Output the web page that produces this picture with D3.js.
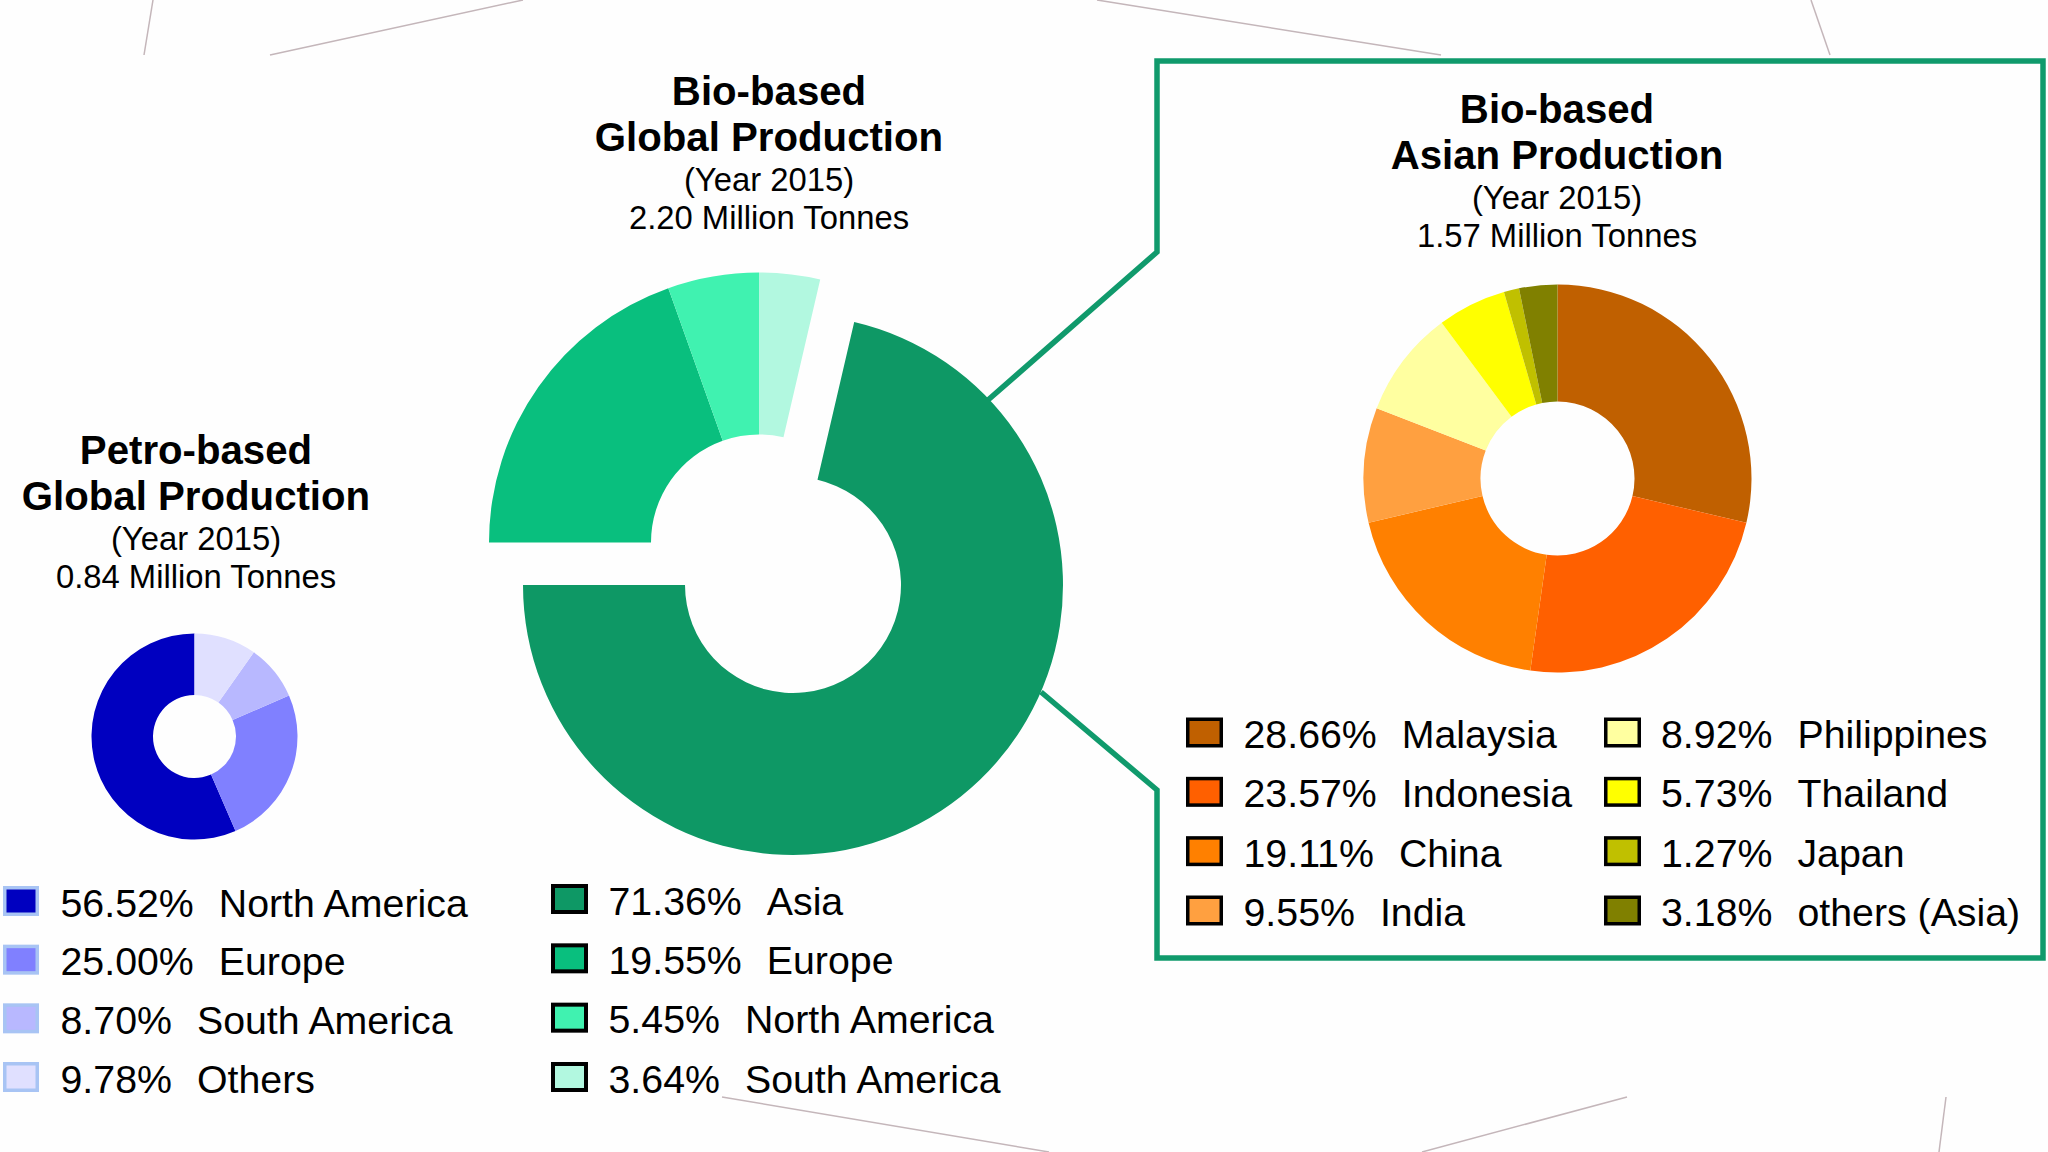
<!DOCTYPE html>
<html>
<head>
<meta charset="utf-8">
<script src="https://cdn.jsdelivr.net/npm/d3@7"></script>
<style>
  html, body { margin: 0; padding: 0; background: #fefefe; }
  svg { display: block; }
  text { font-family: "Liberation Sans", Arial, sans-serif; fill: #000; }
</style>
</head>
<body>
<div id="chart-area"></div>
<script>
// values
var petroRegions = ["North America", "Europe", "South America", "Others"];
var petroShares = [56.52, 25.00, 8.70, 9.78];
var petroColors = ["#0000c0", "#8080ff", "#b8b8ff", "#e0e0ff"];

var bioRegions = ["Asia", "Europe", "North America", "South America"];
var bioShares = [71.36, 19.55, 5.45, 3.64];
var bioColors = ["#0e9865", "#09bf7e", "#40f2b0", "#b2f8e0"];

var asiaCountries = ["Malaysia", "Indonesia", "China", "India", "Philippines", "Thailand", "Japan", "others (Asia)"];
var asiaShares = [28.66, 23.57, 19.11, 9.55, 8.92, 5.73, 1.27, 3.18];
var asiaColors = ["#c06000", "#ff6000", "#ff8000", "#ffa040", "#ffffa0", "#ffff00", "#c0c000", "#808000"];

var svg = d3.select("#chart-area").append("svg")
	.attr("width", 2048)
	.attr("height", 1152);

svg.append("rect")
	.attr("width", 2048)
	.attr("height", 1152)
	.attr("fill", "#fefefe");

// thin lines left over from the slide background
var backgroundLines = [
	[153, 0, 144, 55], [523, 0, 270, 55], [1097, 0, 1441, 55], [1811, 0, 1830, 55],
	[722, 1097, 1049, 1152], [1627, 1097, 1422, 1152], [1946, 1097, 1939, 1152]
];
svg.selectAll("line.bg").data(backgroundLines).enter()
	.append("line")
	.attr("class", "bg")
	.attr("x1", (d) => d[0])
	.attr("y1", (d) => d[1])
	.attr("x2", (d) => d[2])
	.attr("y2", (d) => d[3])
	.attr("stroke", "#c4b6ba")
	.attr("stroke-width", 1.5);

// callout box around the Asian chart
svg.append("path")
	.attr("d", "M988,400L1157,252V61H2043V958H1157V790L1041,692")
	.attr("fill", "none")
	.attr("stroke", "#109a6c")
	.attr("stroke-width", 5.5);

function drawTitle(x, ys, lines) {
	lines.forEach((line, i) => {
		svg.append("text")
			.attr("x", x)
			.attr("y", ys[i])
			.attr("text-anchor", "middle")
			.attr("font-size", i < 2 ? 40.2 : 32.8)
			.attr("font-weight", i < 2 ? "bold" : "normal")
			.text(line);
	});
}

drawTitle(196, [464, 510, 550, 588], ["Petro-based", "Global Production", "(Year 2015)", "0.84 Million Tonnes"]);
drawTitle(769, [105, 151, 191, 229], ["Bio-based", "Global Production", "(Year 2015)", "2.20 Million Tonnes"]);
drawTitle(1557, [122.5, 168.5, 208.5, 247], ["Bio-based", "Asian Production", "(Year 2015)", "1.57 Million Tonnes"]);

function drawSlices(group, slices, colors, inner, outer) {
	var arc = d3.arc().innerRadius(inner).outerRadius(outer);
	group.selectAll("path").data(slices).enter()
		.append("path")
		.attr("d", arc)
		.attr("fill", (d) => colors(d.data.name));
}

function table(names, shares) {
	return names.map((name, i) => ({ name: name, share: shares[i] }));
}

var petroColor = d3.scaleOrdinal().domain(petroRegions).range(petroColors);
var bioColor = d3.scaleOrdinal().domain(bioRegions).range(bioColors);
var asiaColor = d3.scaleOrdinal().domain(asiaCountries).range(asiaColors);

// petro: North America runs counter-clockwise from twelve o'clock
var petroPie = d3.pie().sort(null).value((d) => d.share)
	.startAngle(0)
	.endAngle(-2 * Math.PI);
drawSlices(svg.append("g").attr("transform", "translate(194.5,736.5)"),
	petroPie(table(petroRegions, petroShares)), petroColor, 41.5, 103);

// bio global: Asia pulled out, the other three stay together
// rotated so that Asia ends at nine o'clock
var bioStartAngle = 1.5 * Math.PI - bioShares[0] / 100 * 2 * Math.PI;
var bioPie = d3.pie().sort(null).value((d) => d.share)
	.startAngle(bioStartAngle)
	.endAngle(bioStartAngle + 2 * Math.PI);
var bioSlices = bioPie(table(bioRegions, bioShares));
drawSlices(svg.append("g").attr("transform", "translate(793,585)"),
	bioSlices.slice(0, 1), bioColor, 108, 270);
drawSlices(svg.append("g").attr("transform", "translate(759,542.5)"),
	bioSlices.slice(1), bioColor, 108, 270);

// bio asia
var asiaPie = d3.pie().sort(null).value((d) => d.share);
drawSlices(svg.append("g").attr("transform", "translate(1557.5,478.5)"),
	asiaPie(table(asiaCountries, asiaShares)), asiaColor, 77, 194);

function drawLegend(names, shares, colors, x, textX, y0, y1, stroke, strokeW, swW) {
	var y = d3.scaleLinear().domain([0, names.length - 1]).range([y0, y1]);
	var rows = svg.append("g").selectAll("g").data(table(names, shares)).enter().append("g");
	rows.append("rect")
		.attr("x", x + strokeW / 2)
		.attr("y", (d, i) => y(i) - 30 + strokeW / 2)
		.attr("width", swW - strokeW)
		.attr("height", 30 - strokeW)
		.attr("fill", (d) => colors(d.name))
		.attr("stroke", stroke)
		.attr("stroke-width", strokeW);
	var label = rows.append("text")
		.attr("x", textX)
		.attr("y", (d, i) => y(i) + 0.5)
		.attr("font-size", 39.3);
	label.append("tspan").text((d) => d3.format(".2f")(d.share) + "%");
	label.append("tspan").attr("dx", 25).text((d) => d.name);
}

drawLegend(petroRegions, petroShares, petroColor, 3, 60.5, 916, 1092, "#a8c4f4", 3.5, 36);
drawLegend(bioRegions, bioShares, bioColor, 551, 608.5, 914, 1092, "#000", 4, 37);
drawLegend(asiaCountries.slice(0, 4), asiaShares.slice(0, 4), asiaColor, 1186, 1243.5, 747.5, 925.5, "#000", 3.5, 37);
drawLegend(asiaCountries.slice(4), asiaShares.slice(4), asiaColor, 1604, 1661, 747.5, 925.5, "#000", 3.5, 37);
</script>
</body>
</html>
